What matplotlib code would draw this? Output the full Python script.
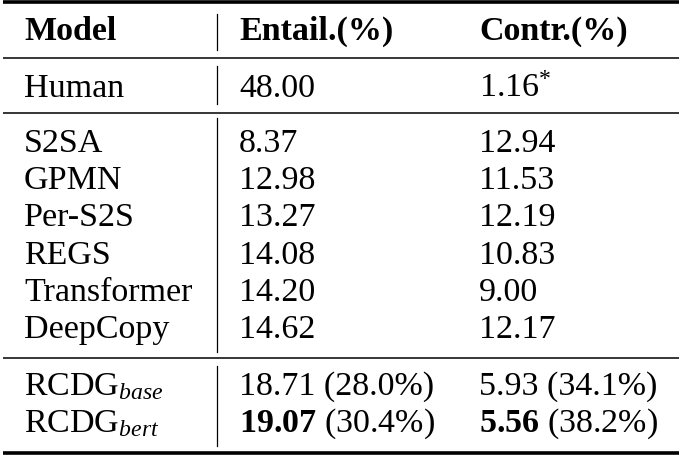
import matplotlib
matplotlib.use("Agg")
from matplotlib import pyplot as plt

plt.rcParams['font.family'] = ['Liberation Serif', 'DejaVu Serif']
plt.rcParams['mathtext.fontset'] = 'custom'
plt.rcParams['mathtext.rm'] = 'Liberation Serif'
plt.rcParams['mathtext.it'] = 'Liberation Serif:italic'
plt.rcParams['mathtext.bf'] = 'Liberation Serif:bold'

# table contents
headers = ['Model', 'Entail.(%)', 'Contr.(%)']

human_entail = '48.00'
human_contr = '1.16$^{*}$'

baselines = ['S2SA', 'GPMN', 'Per-S2S', 'REGS', 'Transformer', 'DeepCopy']
base_entail = [8.37, 12.98, 13.27, 14.08, 14.20, 14.62]
base_contr = [12.94, 11.53, 12.19, 10.83, 9.00, 12.17]

ours = ['RCDG$_{base}$', 'RCDG$_{bert}$']
ours_entail = [18.71, 19.07]
ours_entail_gain = [28.0, 30.4]
ours_contr = [5.93, 5.56]
ours_contr_gain = [34.1, 38.2]

W, H = 682, 455
fig = plt.figure(figsize=(W / 100, H / 100), dpi=100)
ax = fig.add_axes([0, 0, 1, 1])
ax.set_xlim(0, W)
ax.set_ylim(H, 0)
ax.axis('off')

fs = 24.5
col_x = [24, 239, 479]
vline_x = 217


def row(y, cells, bold=False):
    for x, s in zip(col_x, cells):
        ax.text(x, y, s, fontsize=fs, va='baseline', ha='left',
                fontweight='bold' if bold else 'normal')


# header
row(40, headers, bold=True)
# human
row(97, ['Human', human_entail, human_contr])

# baselines
y0, dy = 152, 37.2
for i, name in enumerate(baselines):
    row(y0 + i * dy, [name, '%.2f' % base_entail[i], '%.2f' % base_contr[i]])

# our models, best value in bold
best_e = max(ours_entail)
best_c = min(ours_contr)
for i, name in enumerate(ours):
    e = '%.2f' % ours_entail[i]
    c = '%.2f' % ours_contr[i]
    if ours_entail[i] == best_e:
        e = r'$\mathbf{%s}$' % e
    if ours_contr[i] == best_c:
        c = r'$\mathbf{%s}$' % c
    row(395 + i * 37, [name,
                       e + ' (%.1f%%)' % ours_entail_gain[i],
                       c + ' (%.1f%%)' % ours_contr_gain[i]])

# rules
ax.plot([3, 679], [1.5, 1.5], color='black', lw=2.6, solid_capstyle='butt')
ax.plot([3, 679], [57.5, 57.5], color='black', lw=1.1, solid_capstyle='butt')
ax.plot([3, 679], [113, 113], color='black', lw=1.1, solid_capstyle='butt')
ax.plot([3, 679], [358, 358], color='black', lw=1.1, solid_capstyle='butt')
ax.plot([3, 679], [452.5, 452.5], color='black', lw=2.6, solid_capstyle='butt')

# vertical separator segments
for top, bot in [(14, 50), (66, 104), (118, 352), (366, 446)]:
    ax.plot([vline_x, vline_x], [top, bot], color='black', lw=0.9)

fig.savefig('out.png', dpi=100)
